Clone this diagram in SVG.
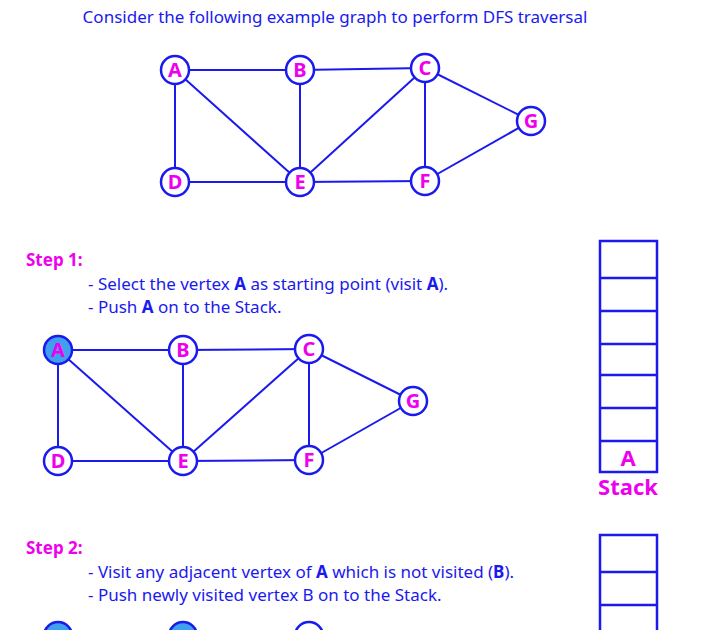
<svg xmlns="http://www.w3.org/2000/svg" width="723" height="630" viewBox="0 0 723 630">
<style>
.t{font-family:"Noto Sans","Open Sans",sans-serif;font-size:17px;fill:#1a1aee}
.s{font-family:"Noto Sans","Open Sans",sans-serif;font-size:17px;font-weight:bold;fill:#ee00ee}
.e line{stroke:#1a1aee;stroke-width:2}
.n circle{fill:#fff;stroke:#1a1aee;stroke-width:2.5}
.n circle.v{fill:#3fa0f0}
.n text{font-family:"Noto Sans","Open Sans",sans-serif;font-size:20px;font-weight:bold;fill:#ee00ee;text-anchor:middle}
.k rect,.k line{fill:none;stroke:#1a1aee;stroke-width:2.5}
</style>
<rect width="723" height="630" fill="#fff"/>
<text class="t" x="335" y="23" text-anchor="middle">Consider the following example graph to perform DFS traversal</text>
<g class="e" id="edges1">
<line x1="175" y1="70" x2="300" y2="70"/><line x1="300" y1="70" x2="425" y2="68"/>
<line x1="425" y1="68" x2="531" y2="121"/><line x1="531" y1="121" x2="425" y2="181"/>
<line x1="175" y1="70" x2="175" y2="182"/><line x1="175" y1="70" x2="300" y2="182"/>
<line x1="300" y1="70" x2="300" y2="182"/><line x1="425" y1="68" x2="300" y2="182"/>
<line x1="425" y1="68" x2="425" y2="181"/><line x1="175" y1="182" x2="300" y2="182"/>
<line x1="300" y1="182" x2="425" y2="181"/>
</g>
<g class="n" id="g1A"><circle cx="175" cy="70" r="14"/><text x="175" y="77">A</text></g>
<g class="n" id="g1B"><circle cx="300" cy="70" r="14"/><text x="300" y="77">B</text></g>
<g class="n" id="g1C"><circle cx="425" cy="68" r="14"/><text x="425" y="75">C</text></g>
<g class="n" id="g1G"><circle cx="531" cy="121" r="14"/><text x="531" y="128">G</text></g>
<g class="n" id="g1D"><circle cx="175" cy="182" r="14"/><text x="175" y="189">D</text></g>
<g class="n" id="g1E"><circle cx="300" cy="182" r="14"/><text x="300" y="189">E</text></g>
<g class="n" id="g1F"><circle cx="425" cy="181" r="14"/><text x="425" y="188">F</text></g>

<text class="s" x="26" y="266">Step 1:</text>
<text class="t" x="88" y="290">- Select the vertex <tspan font-weight="bold">A</tspan> as starting point (visit <tspan font-weight="bold">A</tspan>).</text>
<text class="t" x="88" y="313">- Push <tspan font-weight="bold">A</tspan> on to the Stack.</text>
<g class="e" id="edges2">
<line x1="58" y1="350" x2="183" y2="350"/><line x1="183" y1="350" x2="309" y2="349"/>
<line x1="309" y1="349" x2="413" y2="401"/><line x1="413" y1="401" x2="309" y2="460"/>
<line x1="58" y1="350" x2="58" y2="461"/><line x1="58" y1="350" x2="183" y2="461"/>
<line x1="183" y1="350" x2="183" y2="461"/><line x1="309" y1="349" x2="183" y2="461"/>
<line x1="309" y1="349" x2="309" y2="460"/><line x1="58" y1="461" x2="183" y2="461"/>
<line x1="183" y1="461" x2="309" y2="460"/>
</g>
<g class="n" id="g2A"><circle class="v" cx="58" cy="350" r="14"/><text x="58" y="357">A</text></g>
<g class="n" id="g2B"><circle cx="183" cy="350" r="14"/><text x="183" y="357">B</text></g>
<g class="n" id="g2C"><circle cx="309" cy="349" r="14"/><text x="309" y="356">C</text></g>
<g class="n" id="g2G"><circle cx="413" cy="401" r="14"/><text x="413" y="408">G</text></g>
<g class="n" id="g2D"><circle cx="58" cy="461" r="14"/><text x="58" y="468">D</text></g>
<g class="n" id="g2E"><circle cx="183" cy="461" r="14"/><text x="183" y="468">E</text></g>
<g class="n" id="g2F"><circle cx="309" cy="460" r="14"/><text x="309" y="467">F</text></g>
<g class="k" id="stack1">
<rect x="600" y="241" width="57" height="231"/>
<line x1="600" y1="278" x2="657" y2="278"/><line x1="600" y1="311" x2="657" y2="311"/>
<line x1="600" y1="344" x2="657" y2="344"/><line x1="600" y1="375" x2="657" y2="375"/>
<line x1="600" y1="408" x2="657" y2="408"/><line x1="600" y1="441" x2="657" y2="441"/>
</g>
<text class="s" x="628" y="466" text-anchor="middle" style="font-size:22px">A</text>
<text class="s" x="628" y="495" text-anchor="middle" style="font-size:22px">Stack</text>

<text class="s" x="26" y="554">Step 2:</text>
<text class="t" x="88" y="578">- Visit any adjacent vertex of <tspan font-weight="bold">A</tspan> which is not visited (<tspan font-weight="bold">B</tspan>).</text>
<text class="t" x="88" y="601">- Push newly visited vertex B on to the Stack.</text>
<g class="k" id="stack2">
<rect x="600" y="535" width="57" height="120"/>
<line x1="600" y1="572" x2="657" y2="572"/><line x1="600" y1="605" x2="657" y2="605"/>
</g>
<g class="n" id="g3A"><circle class="v" cx="58" cy="636" r="14"/></g>
<g class="n" id="g3B"><circle class="v" cx="183" cy="636" r="14"/></g>
<g class="n" id="g3C"><circle cx="309" cy="636" r="14"/></g>
</svg>
